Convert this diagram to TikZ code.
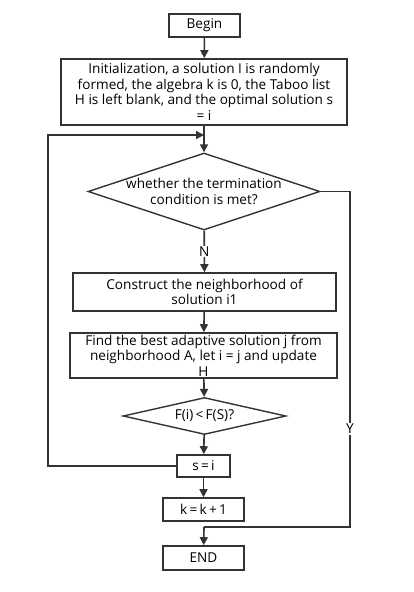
\documentclass[tikz,border=0pt]{standalone}
\usepackage{fontspec}
\setmainfont{Open Sans}
\usetikzlibrary{shapes.geometric,arrows.meta}

\definecolor{ink}{HTML}{333333}
\tikzstyle{box} = [draw=ink, line width=1.6pt, rectangle, inner sep=0pt, align=center, font=\fontsize{13.6}{15.6}\selectfont]
\tikzstyle{decision} = [draw=ink, line width=1.4pt, diamond, inner sep=0pt]
\tikzstyle{txt} = [align=center, font=\fontsize{13.6}{15.6}\selectfont, inner sep=1pt]
\tikzstyle{flow} = [draw=ink, line width=1.6pt, -{Triangle[length=8pt,width=8pt]}]

\begin{document}
\begin{tikzpicture}[x=1pt, y=-1pt]
\useasboundingbox (0,0) rectangle (413,592);

\node[box, minimum width=71pt, minimum height=23pt] (begin) at (204.5,25.5) {Begin};
\node[box, minimum width=286pt, minimum height=66pt] (init) at (204,92)
  {Initialization, a solution I is randomly\\formed, the algebra k is 0, the Taboo list\\H is left blank, and the optimal solution s\\= i};
\node[decision, minimum width=232pt, minimum height=77pt] (cond) at (204,191.5) {};
\node[txt] (condtext) at (cond) {whether the termination\\condition is met?};
\node[box, minimum width=263pt, minimum height=38pt] (neigh) at (204.5,292)
  {Construct the neighborhood of\\solution i1};
\node[box, minimum width=267pt, minimum height=45pt] (best) at (203.5,355.5)
  {Find the best adaptive solution j from\\neighborhood A, let i = j and update\\H};
\node[decision, minimum width=163pt, minimum height=37pt] (cmp) at (204.5,416) {};
\node[txt] (cmptext) at (cmp) {F(i)\,<\,F(S)?};
\node[box, minimum width=53pt, minimum height=22pt] (update) at (203.5,466) {s\,=\,i};
\node[box, minimum width=81pt, minimum height=23pt] (incr) at (203.5,509.5) {k\,=\,k\,+\,1};
\node[box, minimum width=81pt, minimum height=24pt] (fin) at (203.5,558) {END};

\coordinate (back) at (204,135);
\coordinate (join) at (204,527);

\draw[flow] (begin) -- (init);
\draw[flow] (init) -- (cond);
\draw[flow] (cond) -- node[fill=white, txt] (no) {N} (neigh);
\draw[flow] (neigh) -- (best);
\draw[flow] (best) -- (cmp);
\draw[flow] (cmp) -- (update);
\draw[flow] (update) -- (incr);
\draw[flow] (update.west) -| (48,135) -- (back);
\draw[draw=ink, line width=1.2pt] (cond.east) -| node[pos=0.854, fill=white, txt] (yes) {Y} (350,527) -- (join);
\draw[flow] (join) -- (fin);
\end{tikzpicture}
\end{document}
